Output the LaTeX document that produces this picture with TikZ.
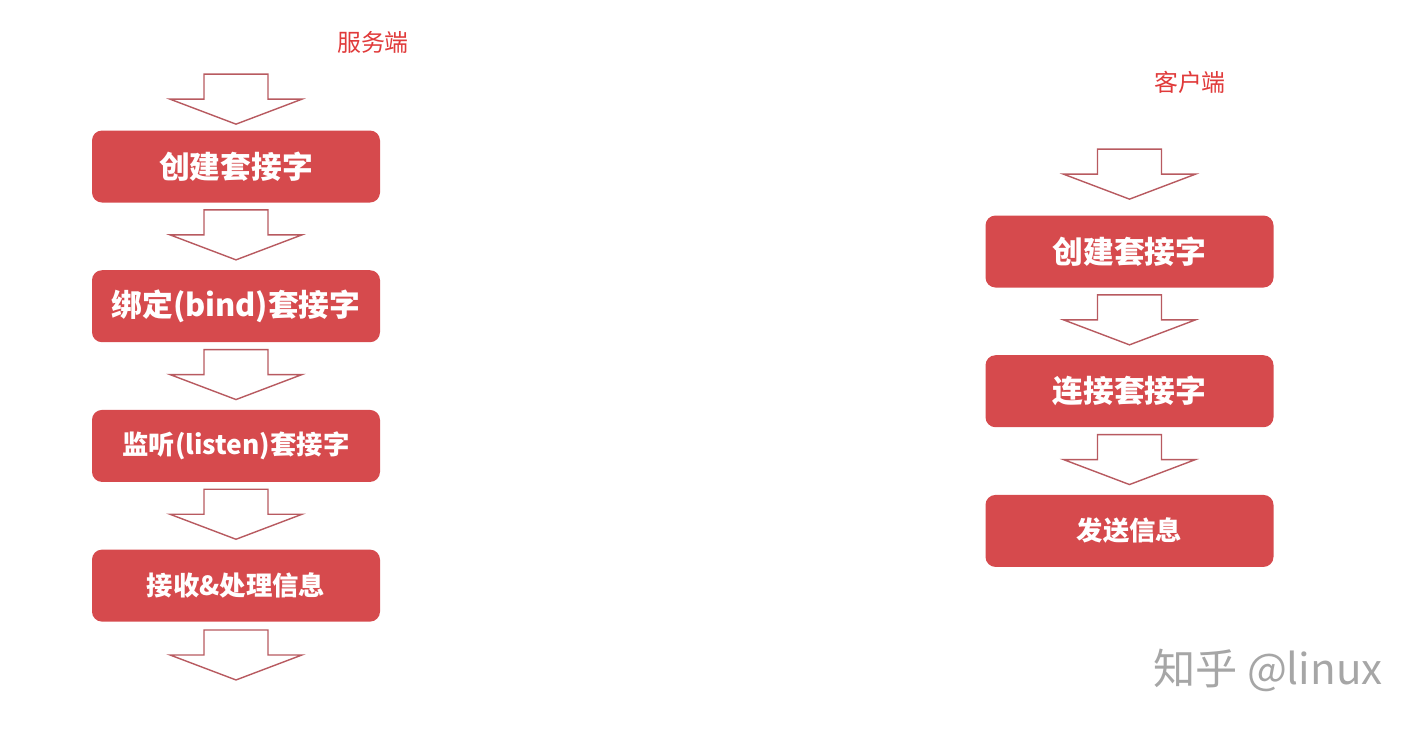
\documentclass[tikz,border=0pt]{standalone}
\usepackage{fontspec}
\setmainfont{Noto Sans CJK SC}
\usepackage{tikz}
\usetikzlibrary{positioning}
\usepackage{xcolor}

\definecolor{boxred}{HTML}{D64A4D}
\definecolor{arrowred}{HTML}{B85A60}
\definecolor{titlered}{HTML}{E03A3A}

% hollow down arrow, top centre at coordinate #1
\newcommand{\hollowdown}[1]{%
	\draw[hollowarrow] ([xshift=-0.64cm]#1) -- ++(0,-0.5) -- ++(-0.68,0) -- ++(1.32,-0.5) -- ++(1.32,0.5) -- ++(-0.68,0) -- ++(0,0.5) -- cycle;}

\begin{document}
\begin{tikzpicture}[node distance=1.34cm]
				% Define styles for boxes
				\tikzset{
					stepbox/.style={
						rectangle,
						fill=boxred,
						rounded corners=0.2cm,
						minimum width=5.76cm,
						minimum height=1.44cm,
						text=white,
						font=\bfseries\fontsize{17.5}{20}\selectfont,
						align=center
					},
					smallbox/.style={
						stepbox,
						font=\bfseries\fontsize{15}{18}\selectfont
					},
					hollowarrow/.style={
						draw=arrowred,
						line width=0.8pt,
						fill=white,
						line join=miter
					},
					title/.style={
						text=titlered,
						font=\fontsize{13.6}{16}\selectfont
					}
				}
				\useasboundingbox (0,0) rectangle (28.42,-14.6);
				
				% Server side
				\node[title] (serverT) at (7.46,-0.84) {服务端};
				\node[stepbox] (createS) at (4.72,-3.33) {创建套接字};
				\node[stepbox, below=of createS] (bindS) {绑定(bind)套接字};
				\node[smallbox, below=of bindS] (listenS) {监听(listen)套接字};
				\node[smallbox, below=of listenS] (recvS) {接收\&处理信息};
				
				% Client side
				\node[title] (clientT) at (23.8,-1.64) {客户端};
				\node[stepbox] (createC) at (22.59,-5.03) {创建套接字};
				\node[stepbox, below=of createC] (connectC) {连接套接字};
				\node[smallbox, below=of connectC] (sendC) {发送信息};
				
				% arrow tops
				\coordinate (a0S) at ([yshift=1.12cm]createS.north);
				\coordinate (a1S) at ([yshift=-0.14cm]createS.south);
				\coordinate (a2S) at ([yshift=-0.14cm]bindS.south);
				\coordinate (a3S) at ([yshift=-0.14cm]listenS.south);
				\coordinate (a4S) at ([yshift=-0.16cm]recvS.south);
				\coordinate (a0C) at ([yshift=1.32cm]createC.north);
				\coordinate (a1C) at ([yshift=-0.14cm]createC.south);
				\coordinate (a2C) at ([yshift=-0.14cm]connectC.south);
				
				% Arrows for server flow
				\foreach \a in {a0S,a1S,a2S,a3S,a4S}
					\hollowdown{\a};
				
				% Arrows for client flow
				\foreach \a in {a0C,a1C,a2C}
					\hollowdown{\a};
				
				% watermark
				\node[text=black!35, font=\fontsize{24}{28}\selectfont] (mark) at (25.36,-13.4) {知乎 @linux};
			\end{tikzpicture}
\end{document}
